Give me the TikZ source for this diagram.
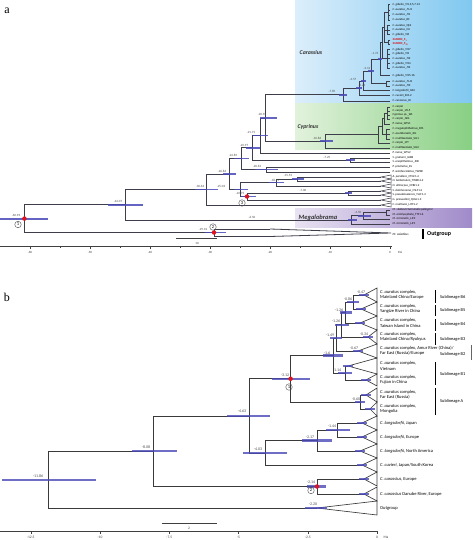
\documentclass[tikz,border=0pt]{standalone}
\usepackage{fontspec}
\setmainfont{Carlito}
\newfontfamily\panelfont{Liberation Serif}
\usetikzlibrary{calc}
\definecolor{lineA}{HTML}{3E3E4A}
\definecolor{lineB}{HTML}{3A3A3A}
\definecolor{hpdblue}{HTML}{4A4AB8}
\definecolor{carL}{HTML}{DCEEFB}
\definecolor{carR}{HTML}{80C8F0}
\definecolor{cypL}{HTML}{E2F2DC}
\definecolor{cypR}{HTML}{88CF84}
\definecolor{megL}{HTML}{E8E2F2}
\definecolor{megR}{HTML}{A08BC9}
\definecolor{agegray}{HTML}{505050}
\definecolor{calred}{HTML}{E0141E}
\newcommand\fla{\fontsize{3.0}{3.4}\selectfont}
\newcommand\fna{\fontsize{3.2}{3.6}\selectfont}
\newcommand\flb{\fontsize{4.5}{5.3}\selectfont}
\newcommand\fnb{\fontsize{4}{4.4}\selectfont}
\tikzset{
  bra/.style={draw=lineA, line width=0.8pt},
  brb/.style={draw=lineB, line width=0.65pt},
  hpda/.style={draw=hpdblue, line width=1.8pt, opacity=0.85},
  hpdb/.style={draw=hpdblue, line width=2.2pt, opacity=0.8},
  lfa/.style={anchor=west, inner sep=0pt, font=\fla},
  lfb/.style={anchor=west, inner sep=0pt, font=\flb, align=left},
  agea/.style={inner sep=0pt, font=\fna, text=agegray},
  ageb/.style={inner sep=0pt, font=\fnb, text=agegray},
  calib/.style={circle, fill=calred, inner sep=0pt, minimum size=4.5pt},
  circnum/.style={circle, draw=black!70, line width=0.4pt, inner sep=0pt, minimum size=6.5pt, font=\fontsize{4.5}{5}\selectfont},
  clade/.style={inner sep=0pt, font=\fontsize{5.8}{6}\selectfont\bfseries\itshape, text=black!80},
  axis/.style={draw=black!75, line width=0.5pt},
  ticklab/.style={inner sep=0pt, font=\fontsize{3.2}{3.5}\selectfont, text=black!75},
  sublab/.style={anchor=west, inner sep=0pt, font=\fontsize{4.4}{5}\selectfont},
  sublbar/.style={draw=black, line width=0.8pt},
  panellet/.style={inner sep=0pt, font=\panelfont\fontsize{12}{12}\selectfont},
}
\newcommand\tipa[3]{\coordinate (#1) at (390,#2);\node[lfa] (#1t) at (392.5,#2) {#3};}
\newcommand\tria[3]{\coordinate (#1) at (381,#2);\draw[bra,line width=0.5pt] (#1) -- ++(10,-2) -- ++(0,4) -- cycle;\node[lfa] (#1t) at (392.5,#2) {#3};}
\newcommand\elba[2]{\foreach \cc in {#2} {\draw[bra] (#1) |- (\cc);}}
\newcommand\elbb[2]{\foreach \cc in {#2} {\draw[brb] (#1) |- (\cc);}}
\newcommand\hpa[3]{\draw[hpda] ([xshift=-#2pt]#1) -- ([xshift=#3pt]#1);}
\newcommand\hpb[3]{\draw[hpdb] ([xshift=-#2pt]#1) -- ([xshift=#3pt]#1);}
\newcommand\trib[5]{\coordinate (#1) at (#2,#3);\draw[brb] (#1) -- (377,#3-#4) -- (377,#3+#4) -- cycle;\node[lfb] (#1t) at (380,#3) {#5};}
\begin{document}
\begin{tikzpicture}[x=1pt,y=-1pt]
\useasboundingbox (0,0) rectangle (474,540);
\fill[white] (0,0) rectangle (474,540);
\node[panellet] (pa) at (7,11) {a};
\node[panellet] (pb) at (7,297) {b};
% ================= PANEL A =================
\shade[left color=carL, right color=carR] (295,0) rectangle (472,103);
\shade[left color=cypL, right color=cypR] (295,104) rectangle (472,150);
\shade[left color=megL, right color=megR] (295,208) rectangle (472,227);
\node[clade] (lcar) at (311,52) {Carassius};
\node[clade] (lcyp) at (308,127) {Cyprinus};
\node[clade, font=\fontsize{6.5}{7}\selectfont\bfseries\itshape] (lmeg) at (318,218) {Megalobrama};
% tips
\tipa{L1}{4.7}{\textit{C. gibelio}\_YJ1,3,5,7-13}
\tipa{L2}{10}{\textit{C. auratus}\_JY-J1}
\tipa{L3}{15}{\textit{C. auratus}\_JY1}
\tipa{L4}{20}{\textit{C. auratus}\_RC}
\tipa{L5}{25.7}{\textit{C. auratus}\_QHJ}
\tipa{L6}{30}{\textit{C. auratus}\_CU}
\tipa{L7}{34.3}{\textit{C. gibelio}\_YJ6}
\tipa{L8}{40}{\textcolor{red!85!black}{\bfseries 3nNCRC\_F\textsubscript{1}}}
\tipa{L9}{44.3}{\textcolor{red!85!black}{\bfseries 3nNCRC\_F\textsubscript{22}}}
\tipa{L10}{49.3}{\textit{C. gibelio}\_YJ17}
\tipa{L11}{54}{\textit{C. gibelio}\_YJ2}
\tipa{L12}{58.7}{\textit{C. auratus}\_JY2}
\tipa{L13}{63.3}{\textit{C. gibelio}\_YJ14}
\tipa{L14}{68}{\textit{C. auratus}\_JY4}
\tipa{L15}{75.3}{\textit{C. gibelio}\_YJ15-16}
\tipa{L16}{81.3}{\textit{C. auratus}\_JY-J2}
\tipa{L17}{86}{\textit{C. auratus}\_JY3}
\tipa{L18}{90.7}{\textit{C. langsdorfii}\_GDJ}
\tipa{L19}{95.7}{\textit{C. cuvieri}\_BJ1-2}
\tipa{L20}{101}{\textit{C. carassius}\_HI}
\tipa{c1}{107}{\textit{C. carpio}}
\tipa{c2}{111}{\textit{C. carpio}\_LYJ-5}
\tipa{c3}{115}{\textit{Cyprinus sp.}\_WL}
\tipa{c4}{119}{\textit{C. carpio}\_GDL}
\tipa{c5}{124}{\textit{P. mana}\_WYL1}
\tipa{c6}{129}{\textit{C. megalophthalmus}\_DYL}
\tipa{c7}{134}{\textit{C. acutidorsalis}\_XJL}
\tipa{c8}{139}{\textit{C. multitaeniata}\_SJL1}
\tipa{c9}{143}{\textit{C. carpio}\_LYT}
\tipa{c10}{148}{\textit{C. multitaeniata}\_SJL2}
\tipa{Pm2}{153}{\textit{P. mana}\_WYL2}
\tipa{Sg}{158}{\textit{S. grahami}\_GJKB}
\tipa{Sa}{162}{\textit{S. anophthalmus}\_JXB}
\tipa{Pr}{167}{\textit{P. procheilus}\_RL}
\tipa{Ps}{172}{\textit{P. semifasciolatus}\_TWXB}
\tria{Ap}{177}{\textit{A. parallens}\_CTGC1-4}
\tria{Ob}{181}{\textit{O. barbatulum}\_TWBG1-2}
\tria{Oa}{186}{\textit{O. alticorpus}\_GTBJ1-2}
\tria{Sd}{191}{\textit{S. dolichonema}\_CSLF1-2}
\tria{Sp}{195}{\textit{S. pseudaksaiensis}\_YLLF1-2}
\tria{Gp}{200}{\textit{G. przewalskii}\_QHLL1-3}
\tria{Cm}{205}{\textit{C. multiseta}\_LJYF1-2}
\tipa{Mk}{210}{\textit{M. skolkovii/terminalis/pellegrini}}
\tipa{Mb}{215}{\textit{M. amblycephala}\_TTF1-6}
\tipa{Mt2}{219}{\textit{M. terminalis}\_LJF2}
\tipa{Mt1}{224}{\textit{M. terminalis}\_LJF1}
\node[lfa, font=\fontsize{3.3}{3.6}\selectfont] (Mast) at (392.5,234) {\textit{M. asiaticus}};
\coordinate (ogtip) at (391,233);
\coordinate (og1) at (270,229);
\coordinate (og2) at (270,236.5);
\draw[sublbar, line width=1.2pt] (423,229) -- (423,239);
\node[anchor=west, inner sep=0pt, font=\fontsize{6}{6}\selectfont\bfseries] (outa) at (427,234) {Outgroup};
% internal nodes
\coordinate (R) at (24.4,218.6);
\coordinate (A) at (125.6,204.7);
\coordinate (OG) at (214,232.5);
\coordinate (B) at (206,189.5);
\coordinate (M650) at (351,219.9);
\coordinate (M450) at (363,215.8);
\coordinate (M3) at (386,212.5);
\coordinate (C) at (229,174);
\coordinate (E) at (240,189.5);
\coordinate (G) at (276,182.5);
\coordinate (H) at (297,179);
\coordinate (F) at (247,196.5);
\coordinate (S7) at (348,193);
\coordinate (D2485) at (241,158.6);
\coordinate (D2297) at (252,147.8);
\coordinate (N2065) at (266,169.5);
\coordinate (S725) at (350,160);
\coordinate (D2175) at (260,135.5);
\coordinate (D209) at (265,118);
\coordinate (N785) at (343,94.7);
\coordinate (N523) at (359,88.4);
\coordinate (N457) at (363,81);
\coordinate (N312) at (371,71.4);
\coordinate (N174) at (380,59.1);
\coordinate (Nup) at (382,42.9);
\coordinate (Na) at (384,27);
\coordinate (rk1) at (388,12.35);
\coordinate (rk2) at (387,30);
\coordinate (rk3) at (388,42.15);
\coordinate (rk4) at (387,58.65);
\coordinate (Njy) at (386,83.65);
\coordinate (N108) at (325,141.3);
\coordinate (Nr) at (378,134.6);
\coordinate (Nq) at (382,126.25);
\coordinate (Nc3) at (384,118.5);
\coordinate (rkc1) at (387,113);
\coordinate (rkc2) at (386,134);
% branches
\elba{R}{A,OG}
\elba{A}{B,M650}
\elba{B}{C,Cm}
\elba{C}{D2485,E}
\elba{D2485}{D2297,N2065}
\elba{D2297}{D2175,S725}
\elba{D2175}{D209,Pm2}
\elba{D209}{N785,N108}
\elba{N785}{N523,L20}
\elba{N523}{N457,L19}
\elba{N457}{N312,L18}
\elba{N312}{N174,Njy}
\elba{Njy}{L16,L17}
\elba{N174}{Nup,L15}
\elba{Nup}{Na,rk4}
\elba{Na}{rk1,rk2,rk3}
\elba{rk1}{L1,L2,L3,L4}
\elba{rk2}{L5,L6,L7}
\elba{rk3}{L8,L9}
\elba{rk4}{L10,L11,L12,L13,L14}
\elba{N108}{Nr,c10}
\elba{Nr}{Nq,c9}
\elba{Nq}{Nc3,rkc2}
\elba{Nc3}{rkc1,c5}
\elba{rkc1}{c1,c2,c3,c4}
\elba{rkc2}{c6,c7,c8}
\elba{S725}{Sg,Sa}
\elba{N2065}{Pr,Ps}
\elba{E}{G,F}
\elba{G}{H,Oa}
\elba{H}{Ap,Ob}
\elba{F}{S7,Gp}
\elba{S7}{Sd,Sp}
\elba{M650}{M450,Mt1}
\elba{M450}{M3,Mt2}
\elba{M3}{Mk,Mb}
\elba{OG}{og1,og2}
\draw[bra] (og1) -- (ogtip) -- (og2);
% HPD bars
\hpa{R}{24.4}{23.6}
\hpa{A}{17.6}{17.4}
\hpa{B}{11}{12}
\hpa{OG}{9}{12}
\hpa{C}{6}{7}
\hpa{D2485}{7}{8}
\hpa{D2297}{6}{8}
\hpa{D2175}{7}{8}
\hpa{D209}{5}{12}
\hpa{N2065}{11}{12}
\hpa{E}{6}{8}
\hpa{F}{6}{9}
\hpa{G}{7}{8}
\hpa{H}{5}{7}
\hpa{S7}{3}{4}
\hpa{S725}{4}{5}
\hpa{N108}{5}{8}
\hpa{N785}{4}{4}
\hpa{N523}{3}{3}
\hpa{N457}{2}{3}
\hpa{N312}{3}{3}
\hpa{N174}{2}{2}
\hpa{M650}{3}{6}
\hpa{M450}{5}{8}
% age labels
\node[agea] (aR) at (16,215) {-60.93};
\node[agea] (aA) at (118,201) {-44.07};
\node[agea] (aB) at (200,186.5) {-30.63};
\node[agea] (aOG) at (203,229) {-29.32};
\node[agea] (aC) at (222,171.5) {-26.84};
\node[agea] (aE) at (221,186.5) {-25.03};
\node[agea] (aF) at (240,193.5) {-22.75};
\node[agea] (aD2485) at (233,155.5) {-24.85};
\node[agea] (aD2297) at (244,145) {-22.97};
\node[agea] (aD2175) at (251,132) {-21.75};
\node[agea] (aD209) at (262,114) {-20.96};
\node[agea] (aN2065) at (257,166.5) {-20.65};
\node[agea] (aG) at (275,180.5) {-18.95};
\node[agea] (aH) at (288,175.5) {-15.55};
\node[agea] (aS7) at (303,190) {-7.00};
\node[agea] (aS725) at (327,157.5) {-7.25};
\node[agea] (aN108) at (317,138.5) {-10.86};
\node[agea] (aN785) at (332,91) {-7.85};
\node[agea] (aN523) at (362,85.5) {-5.23};
\node[agea] (aN457) at (353,79) {-4.57};
\node[agea] (aN312) at (367,68) {-3.12};
\node[agea] (aN174) at (375,53) {-1.74};
\node[agea] (aM650) at (252,217.5) {-6.50};
\node[agea] (aM450) at (358,212.5) {-4.50};
% calibrations
\node[calib] (kR) at (R) {};
\node[calib] (kOG) at (OG) {};
\node[calib] (kF) at (F) {};
\node[circnum] (c1a) at (18,224.5) {1};
\node[circnum] (c2a) at (213,227) {2};
\node[circnum] (c3a) at (242,203) {3};
% scale bar and axis
\draw[axis] (176,238) -- (217,238);
\node[ticklab] (sba) at (197,243) {10};
\draw[axis] (0,246) -- (392,246);
\foreach \k/\lab in {0/-60,1/-50,2/-40,3/-30,4/-20,5/-10,6/0} {
  \draw[axis] (30+60*\k,246) -- ++(0,3);
  \node[ticklab] at (30+60*\k,252.5) {\lab};
}
\foreach \k in {0,...,5} {\draw[axis] (60+60*\k,246) -- ++(0,2);}
\node[ticklab] (maa) at (400,252.5) {Ma};
% ================= PANEL B =================
\trib{TB6}{364}{295}{7}{\textit{C. auratus} complex,\\Mainland China/Europe}
\trib{TB5}{361}{309}{7}{\textit{C. auratus} complex,\\Yangtze River in China}
\trib{TB4}{360}{323}{7}{\textit{C. auratus} complex,\\Taiwan Island in China}
\trib{TB3}{368}{337}{7}{\textit{C. auratus} complex,\\Mainland China/Ryukyus}
\trib{TB2}{358}{351}{7}{\textit{C. auratus} complex, Amur River (China)/\\Far East (Russia)/Europe}
\trib{TViet}{348}{366}{8}{\textit{C. auratus} complex,\\Vietnam}
\trib{TFuj}{366}{380}{6}{\textit{C. auratus} complex,\\Fujian in China}
\trib{TFE}{366}{395}{7}{\textit{C. auratus} complex,\\Far East (Russia)}
\trib{TMon}{370}{409}{7}{\textit{C. auratus} complex,\\Mongolia}
\trib{TlJ}{362}{423}{7}{\textit{C. langsdorfii}, Japan}
\trib{TlE}{362}{437}{7}{\textit{C. langsdorfii}, Europe}
\trib{TlNA}{360}{451}{7}{\textit{C. langsdorfii}, North America}
\trib{Tcuv}{362}{465}{7}{\textit{C. cuvieri}, Japan/South Korea}
\trib{TcE}{364}{479}{7}{\textit{C. carassius}, Europe}
\trib{TcD}{364}{494}{7}{\textit{C. carassius} Danube River, Europe}
\trib{OGb}{317}{508}{7}{Outgroup}
\coordinate (R11) at (48.5,479.6);
\coordinate (N808) at (153,451.2);
\coordinate (N463) at (249,415.9);
\coordinate (N403) at (265,453);
\coordinate (N217) at (317,440.5);
\coordinate (N144) at (337,430);
\coordinate (N214) at (317,486.5);
\coordinate (N312b) at (290.6,378.75);
\coordinate (N16) at (333,355.5);
\coordinate (N149) at (336,338);
\coordinate (X2) at (341,324.75);
\coordinate (X1) at (345,312.5);
\coordinate (N086) at (353,302);
\coordinate (N114) at (345,373);
\coordinate (N060) at (360.4,402);
\elbb{R11}{N808,OGb}
\elbb{N808}{N463,N214}
\elbb{N463}{N312b,N403}
\elbb{N403}{N217,Tcuv}
\elbb{N217}{N144,TlNA}
\elbb{N144}{TlJ,TlE}
\elbb{N214}{TcE,TcD}
\elbb{N312b}{N16,N060}
\elbb{N16}{N149,N114}
\elbb{N149}{X2,TB2}
\elbb{X2}{X1,TB3}
\elbb{X1}{N086,TB4}
\elbb{N086}{TB6,TB5}
\elbb{N114}{TViet,TFuj}
\elbb{N060}{TFE,TMon}
% HPD bars b
\foreach \t in {TB6,TB5,TB4,TB3,TB2,TViet,TFuj,TFE,TMon,TlJ,TlE,TlNA,Tcuv,TcE,TcD} {\hpb{\t}{5}{5}}
\hpb{R11}{46.5}{47.5}
\hpb{N808}{21}{24}
\hpb{N463}{22}{21}
\hpb{N403}{22}{22}
\hpb{N217}{15}{15}
\hpb{N144}{11}{13}
\hpb{N214}{10}{9}
\hpb{OGb}{12}{10}
\hpb{N312b}{19}{19}
\hpb{N16}{10}{10}
\hpb{N149}{6}{6}
\hpb{X2}{6}{8}
\hpb{X1}{5}{7}
\hpb{N086}{6}{6}
\hpb{N114}{7}{7}
\hpb{N060}{5}{5}
% age labels b
\node[ageb] (bR11) at (38,476) {-11.86};
\node[ageb] (bN808) at (146,447) {-8.08};
\node[ageb] (bN463) at (242,411) {-4.63};
\node[ageb] (bN403) at (258,449) {-4.03};
\node[ageb] (bN217) at (310,437) {-2.17};
\node[ageb] (bN144) at (332,426) {-1.44};
\node[ageb] (bN214) at (311,482) {-2.14};
\node[ageb] (bOG) at (313,504) {-2.20};
\node[ageb] (bN312) at (285,375) {-3.12};
\node[ageb] (bN16) at (327,353) {-1.6};
\node[ageb] (bN149) at (330,335) {-1.49};
\node[ageb] (bX2) at (336,321) {-1.26};
\node[ageb] (bX1) at (339,310) {-1.26};
\node[ageb] (bN086) at (348,299) {-0.86};
\node[ageb] (bB6) at (361,292) {-0.47};
\node[ageb] (bB3) at (364,334) {-0.34};
\node[ageb] (bB2) at (354,348) {-0.67};
\node[ageb] (bN114) at (337,370) {-1.14};
\node[ageb] (bN060) at (356,399) {-0.60};
\node[calib] (kN312b) at (N312b) {};
\node[calib] (kN214) at (N214) {};
\node[circnum] (c1b) at (289,387) {1};
\node[circnum] (c2b) at (311,490.5) {2};
% sublineage brackets
\draw[sublbar] (435,290) -- (435,303);
\draw[sublbar] (435,305) -- (435,316);
\draw[sublbar] (435,319) -- (435,331);
\draw[sublbar] (435,333) -- (435,345);
\draw[sublbar, draw=black!60] (471,345) -- (471,360);
\draw[sublbar] (435,362) -- (435,385);
\draw[sublbar] (435,388) -- (435,415);
\node[sublab] (sB6) at (440,297) {Sublineage B6};
\node[sublab] (sB5) at (440,310) {Sublineage B5};
\node[sublab] (sB4) at (440,324) {Sublineage B4};
\node[sublab] (sB3) at (440,339) {Sublineage B3};
\node[sublab] (sB2) at (440,354) {Sublineage B2};
\node[sublab] (sB1) at (440,374) {Sublineage B1};
\node[sublab] (sA) at (440,401) {Sublineage A};
% scale bar and axis b
\draw[axis] (162,523) -- (217,523);
\node[ticklab, font=\fontsize{3.6}{4}\selectfont] (sbb) at (189,528) {2};
\draw[axis] (0,531) -- (377,531);
\foreach \k/\lab in {0/0,1/-2.5,2/-5,3/-7.5,4/-10,5/-12.5} {
  \draw[axis] (377-69.25*\k,531) -- ++(0,2.5);
  \node[ticklab, font=\fontsize{3.6}{4}\selectfont] at (377-69.25*\k,537) {\lab};
}
\node[ticklab, font=\fontsize{3.6}{4}\selectfont] (mab) at (386,537) {Ma};
\end{tikzpicture}
\end{document}
